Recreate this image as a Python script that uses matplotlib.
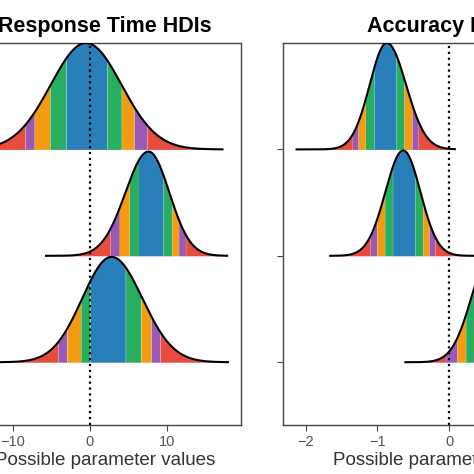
import numpy as np
import matplotlib.pyplot as plt

plt.rcParams['font.family'] = ['Liberation Sans', 'DejaVu Sans']

band_colors = ['#e74c3c', '#9b59b6', '#f39c12', '#27ae60', '#2980b9']

# Response Time ridges (top, middle, bottom): peak, sd_left, sd_right, x_min, x_max
rt_peak = [-0.5, 7.6, 2.8]
rt_sdl = [4.6, 3.0, 3.8]
rt_sdr = [4.6, 2.7, 4.0]
rt_min = [-17.0, -5.7, -17.0]
rt_max = [17.2, 17.8, 17.9]
rt_height = [1.0, 0.98, 0.99]
# band edges: purple, orange, green, blue (left) | blue, green, orange, purple (right)
rt_edges = [[-8.4, -7.2, -5.2, -3.1, 2.2, 4.1, 5.7, 7.4],
            [2.6, 3.8, 5.1, 6.3, 9.5, 10.6, 11.5, 12.4],
            [-4.2, -3.0, -1.2, 0.0, 4.6, 6.6, 7.9, 9.1]]

acc_peak = [-0.87, -0.64, 0.58]
acc_sdl = [0.24, 0.25, 0.27]
acc_sdr = [0.27, 0.24, 0.27]
acc_min = [-2.13, -1.66, -0.61]
acc_max = [0.08, 0.6, 1.9]
acc_height = [1.0, 0.99, 1.0]
acc_edges = [[-1.35, -1.27, -1.17, -1.05, -0.74, -0.63, -0.52, -0.43],
             [-1.10, -1.01, -0.90, -0.79, -0.48, -0.37, -0.28, -0.20],
             [-0.05, 0.11, 0.23, 0.40, 0.78, 0.90, 1.00, 1.10]]

baselines = [3, 2, 1]

def draw(ax, peaks, sdl, sdr, mins, maxs, heights, edges):
    for p, sl, sr, lo, hi, h, e, b in zip(peaks, sdl, sdr, mins, maxs, heights, edges, baselines):
        x = np.linspace(lo, hi, 800)
        sd = np.where(x < p, sl, sr)
        y = h * np.exp(-0.5 * ((x - p) / sd) ** 2)
        bounds = [lo] + e + [hi]
        cols = band_colors[:4] + [band_colors[4]] + band_colors[:4][::-1]
        for i in range(len(bounds) - 1):
            m = (x >= bounds[i]) & (x <= bounds[i + 1])
            ax.fill_between(x[m], b, b + y[m], color=cols[i], lw=0)
        ax.plot(x, b + y, color='black', lw=1.5, zorder=3)

fig = plt.figure(figsize=(4.74, 4.74), dpi=100)
H = 474.0
axL = fig.add_axes([-31 / H, (H - 425) / H, 272 / H, 382 / H])
axR = fig.add_axes([283 / H, (H - 425) / H, 320 / H, 382 / H])

draw(axL, rt_peak, rt_sdl, rt_sdr, rt_min, rt_max, rt_height, rt_edges)
draw(axR, acc_peak, acc_sdl, acc_sdr, acc_min, acc_max, acc_height, acc_edges)

axL.set_xlim(-15.7, 19.6)
axR.set_xlim(-2.32, 2.15)
axL.set_xticks([-10, 0, 10])
axR.set_xticks([-2, -1, 0, 1, 2])
axL.set_title('Response Time HDIs', fontsize=15.5, fontweight='bold', pad=8)
axR.set_title('Accuracy HDIs', fontsize=15.5, fontweight='bold', pad=8)
for ax in (axL, axR):
    ax.set_ylim(0.41, 4.0)
    ax.set_yticks(baselines)
    ax.set_yticklabels([])
    ax.axvline(0, color='black', ls=':', lw=1.6, zorder=4)
    for s in ax.spines.values():
        s.set_color('#444444')
        s.set_linewidth(1.0)
    ax.tick_params(colors='#444444', labelsize=10.5, labelcolor='#555555', length=4)
    ax.set_xlabel('Possible parameter values', fontsize=13.5, color='#333333', labelpad=2)

fig.savefig('out.png', dpi=100)
